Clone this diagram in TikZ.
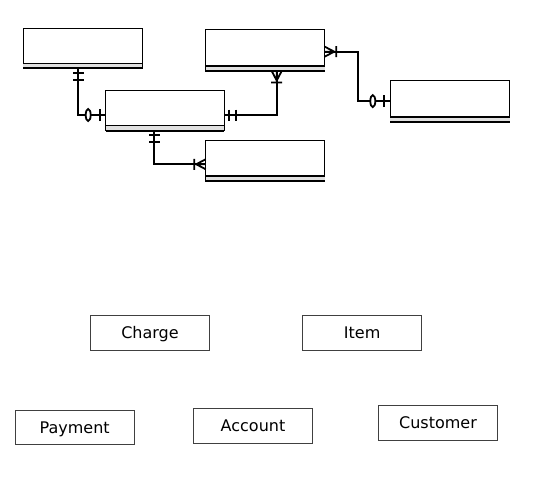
\documentclass[tikz,border=0pt]{standalone}
\usepackage{fontspec}
\setmainfont{DejaVu Sans}
\begin{document}
\begin{tikzpicture}[x=1pt,y=-1pt,
  entity/.style={draw=black, line width=1pt, fill=white, inner sep=0pt, outer sep=0pt},
  label/.style={draw=black!75, line width=1pt, fill=white, inner sep=0pt, outer sep=0pt,
    minimum width=119pt, minimum height=34.5pt, font=\fontsize{16}{18}\selectfont,
    text height=11.6pt, text depth=0pt},
  conn/.style={line width=2pt, black},
  mk/.style={line width=1.8pt, black},
  pics/mandone/.style={code={\draw[mk] (4.5,-5.5)--(4.5,5.5) (11.5,-5.5)--(11.5,5.5);}},
  pics/zeroone/.style={code={\draw[mk] (6,-6)--(6,6);
      \draw[mk, fill=white] (17.5,0) ellipse [x radius=2.5pt, y radius=6pt];}},
  pics/onemany/.style={code={\draw[mk] (0,5)--(9.5,0)--(0,-5) (0,0)--(9.5,0) (11.5,-5.5)--(11.5,5.5);}},
]
\useasboundingbox (0,0) rectangle (554,482);
\fill[white] (0,0) rectangle (554,482);

% entities
\node[entity, minimum width=119pt, minimum height=40pt]   (A) at (82.8,48.3) {};
\node[entity, minimum width=118.6pt, minimum height=40.4pt] (B) at (165,110.5) {};
\node[entity, minimum width=119pt, minimum height=41.7pt] (C) at (265.2,50.15) {};
\node[entity, minimum width=119.4pt, minimum height=41.7pt] (D) at (450,101.15) {};
\node[entity, minimum width=119pt, minimum height=40.7pt] (E) at (265.2,160.65) {};

\foreach \n in {A,B,C,D,E}{
  \fill[black!12] ([yshift=5pt]\n.south west) rectangle (\n.south east);
  \draw[line width=1.3pt] ([yshift=5pt]\n.south west) -- ([yshift=5pt]\n.south east);
  \draw[line width=2pt] (\n.south west) -- (\n.south east);
}

% connectors
\draw[conn] ([xshift=-4.5pt]A.south) |- ([yshift=-4.5pt]B.west);
\draw[conn] ([yshift=-4.5pt]B.east) -| ([xshift=11.5pt]C.south);
\draw[conn] ([xshift=-11pt]B.south) |- ([yshift=-3.6pt]E.west);
\draw[conn] ([yshift=-1.5pt]C.east) -| ([xshift=-32.6pt]D.west) -- (D.west);

% cardinality marks
\pic[rotate=-90] at ([xshift=-4.5pt]A.south) {mandone};
\pic[rotate=180] at ([yshift=-4.5pt]B.west) {zeroone};
\pic at ([yshift=-4.5pt]B.east) {mandone};
\pic[rotate=-90] at ([xshift=11.5pt]C.south) {onemany};
\pic[rotate=-90] at ([xshift=-11pt]B.south) {mandone};
\pic[rotate=180] at ([yshift=-3.6pt]E.west) {onemany};
\pic at ([yshift=-1.5pt]C.east) {onemany};
\pic[rotate=180] at (D.west) {zeroone};

% labels
\node[label] (charge)   at (150,332.9)  {Charge};
\node[label] (item)     at (362.2,332.9) {Item};
\node[label] (payment)  at (74.7,427.5) {Payment};
\node[label] (account)  at (253,426)    {Account};
\node[label] (customer) at (438,422.9)  {Customer};
\end{tikzpicture}
\end{document}
